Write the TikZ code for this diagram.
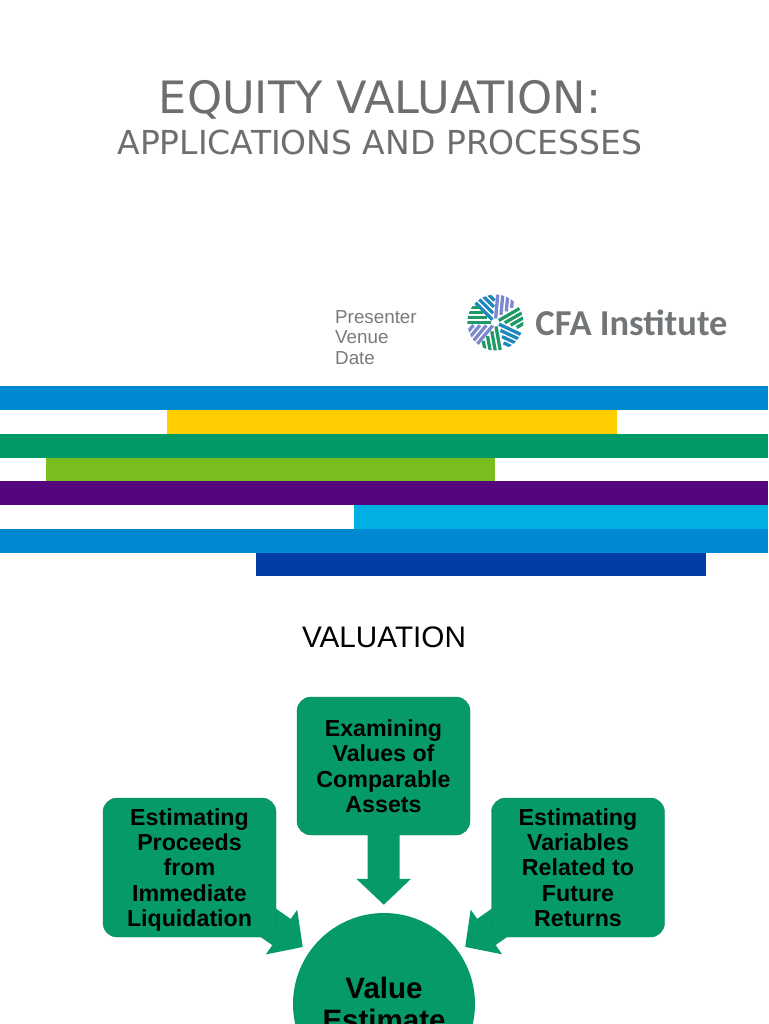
\documentclass[tikz,border=0pt]{standalone}
\usepackage{fontspec}
\setmainfont{Liberation Sans}
\newfontfamily\logofont{Carlito}
\newfontfamily\titlefont{DejaVu Sans}
\usetikzlibrary{arrows.meta,backgrounds}
\definecolor{titlegrey}{HTML}{6E6E6E}
\definecolor{textgrey}{HTML}{7A7A7A}
\definecolor{logogrey}{HTML}{737678}
\definecolor{boxgreen}{HTML}{069A66}
\definecolor{boxedge}{HTML}{0C8A5E}
\definecolor{barblue}{HTML}{0089D0}
\definecolor{baryellow}{HTML}{FFCD00}
\definecolor{bargreen}{HTML}{009A67}
\definecolor{barlime}{HTML}{78BE20}
\definecolor{barpurple}{HTML}{54067F}
\definecolor{barcyan}{HTML}{00B0E2}
\definecolor{barnavy}{HTML}{003DA5}
\definecolor{logoblue}{HTML}{1E88BE}
\definecolor{logoviolet}{HTML}{7C88CE}
\definecolor{logogreen}{HTML}{1F9A66}
\tikzset{
    stepbox/.style={draw=boxedge, fill=boxgreen, rounded corners=14pt, align=center, inner sep=0pt,
        minimum width=173pt, text depth=-2pt, font=\fontsize{23.2}{25.3}\selectfont\bfseries},
    blockarrow/.style={boxgreen, line width=32pt, shorten >=8pt,
        -{Triangle[length=26pt, width=53pt]}},
    greytext/.style={textgrey, align=left, anchor=west, inner sep=0pt, font=\fontsize{18.8}{20.7}\selectfont},
}
\begin{document}
\begin{tikzpicture}[x=1pt, y=-1pt]
    \clip (0, 0) rectangle (768, 1024);

    \path (380, 100)  node[titlegrey, font=\fontsize{44.6}{50}\selectfont\titlefont](title) {EQUITY VALUATION:};
    \path (380, 142) node[titlegrey, font=\fontsize{33}{38}\selectfont\titlefont](subtitle) {APPLICATIONS AND PROCESSES};
    \path (335, 337.5) node[greytext](venue) {Presenter\\Venue\\Date};
    \path (631.5, 323) node[logogrey, font=\fontsize{36.5}{36}\selectfont\logofont\bfseries](logo) {CFA Institute};

    % logo star
    \begin{scope}[shift={(495.3, 322.5)}, x=1pt, y=1pt]
        \clip (0, 0) circle (28pt);
        \foreach \ang/\col in {135/logoblue, 85/logoviolet, 30/logogreen, -25/logoblue, -80/logogreen, -130/logoviolet, 180/logogreen} {
            \foreach \off in {0, 5, 10, 15} {
                \draw[\col, line width=3.3pt, rotate=\ang] (4 + \off * 0.8, -\off) -- (32, -\off);
            }
        }
    \end{scope}

    % bars
    \fill[barblue]    (0, 386)   rectangle (768, 410);
    \fill[baryellow]  (167, 410) rectangle (617, 434);
    \fill[bargreen]   (0, 434)   rectangle (768, 458);
    \fill[barlime]    (46, 458)  rectangle (495, 481);
    \fill[barpurple]  (0, 481)   rectangle (768, 505);
    \fill[barcyan]    (354, 505) rectangle (768, 529);
    \fill[barblue]    (0, 529)   rectangle (768, 553);
    \fill[barnavy]    (256, 553) rectangle (706, 576);

    \path (384, 637) node[font=\fontsize{29.7}{32}\selectfont](valuation) {VALUATION};

    \path (383.5, 766) node[stepbox, minimum height=138pt, text depth=-5pt](comparable) {Examining\\Values of\\Comparable\\Assets};
    \path (189.5, 867.5) node[stepbox, minimum height=139pt](proceeds) {Estimating\\Proceeds\\from\\Immediate\\Liquidation};
    \path (578, 867.5) node[stepbox, minimum height=139pt](variables) {Estimating\\Variables\\Related to\\Future\\Returns};
    \path (384, 1004) node[circle, fill=boxgreen, minimum size=182pt, inner sep=0pt, align=center,
        font=\fontsize{29.5}{32}\selectfont\bfseries](estimate) {Value\\Estimate};

    \begin{scope}[on background layer]
        \draw[blockarrow] (comparable.center) -- (estimate);
        \draw[blockarrow] (proceeds.center) -- (estimate);
        \draw[blockarrow] (variables.center) -- (estimate);
    \end{scope}
\end{tikzpicture}
\end{document}
